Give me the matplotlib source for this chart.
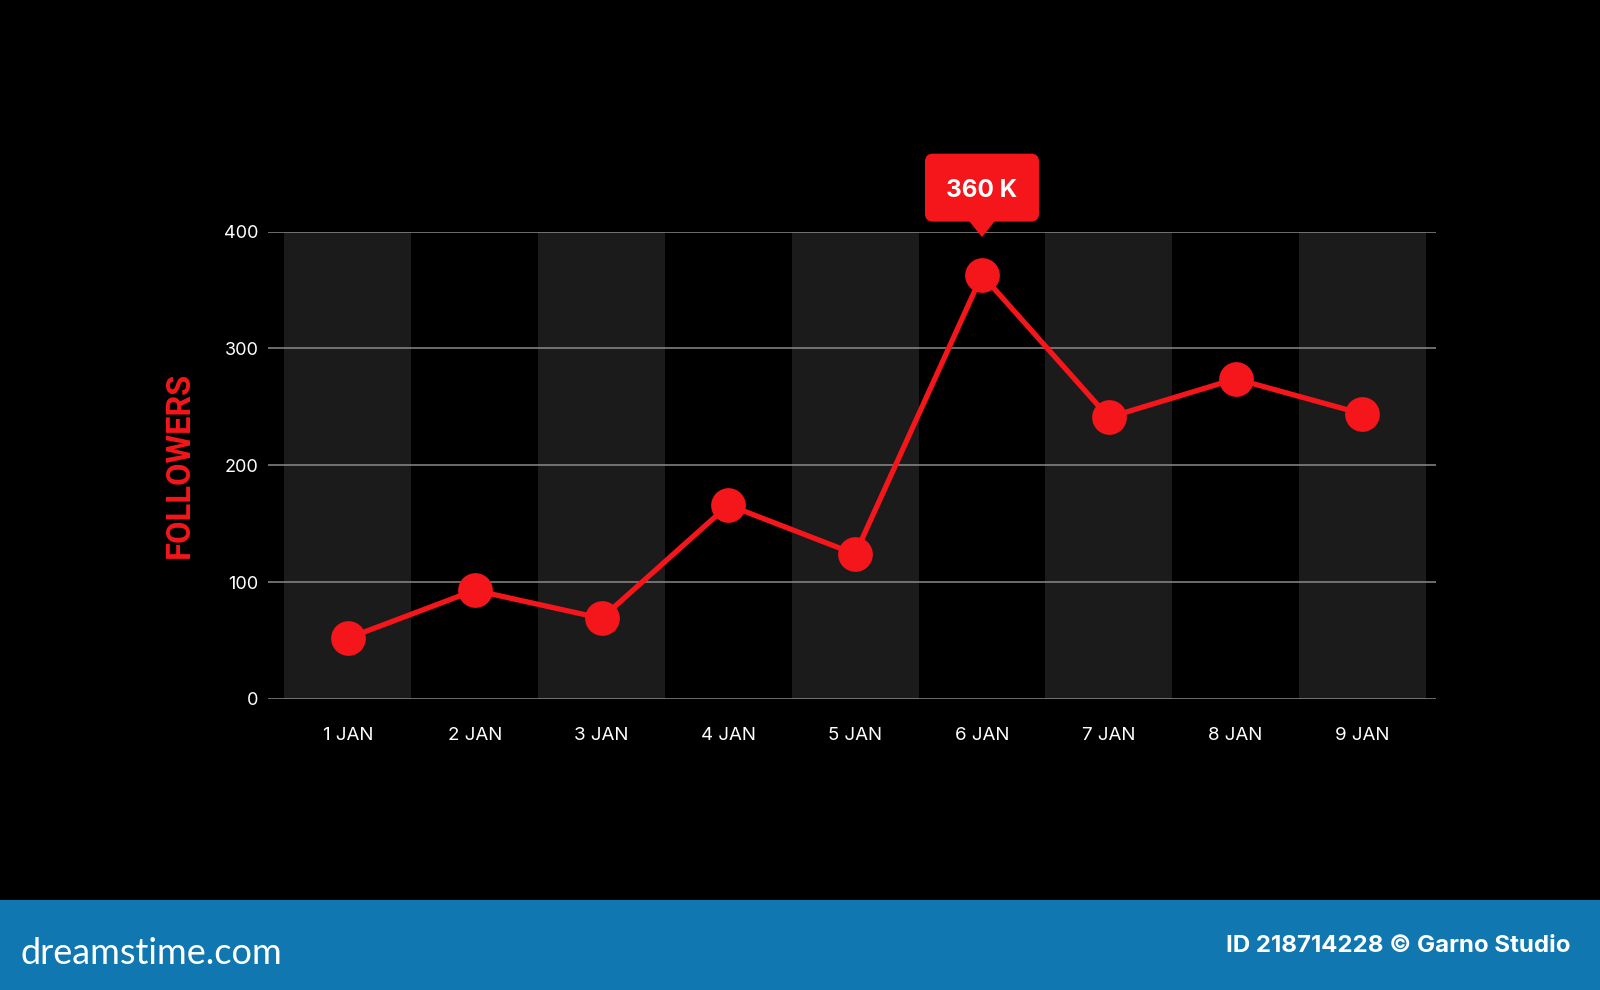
import matplotlib.pyplot as plt
from matplotlib.patches import FancyBboxPatch, Polygon, Rectangle
from matplotlib.transforms import ScaledTranslation

# data
days = ['1 JAN', '2 JAN', '3 JAN', '4 JAN', '5 JAN', '6 JAN', '7 JAN', '8 JAN', '9 JAN']
followers = [52, 93, 69, 166, 124, 363, 241, 274, 244]
yticks = [0, 100, 200, 300, 400]
peak_label = '360 K'

RED = '#f5161b'
fig = plt.figure(figsize=(16, 9.9), dpi=100, facecolor='black')
ax = fig.add_axes([0.1675, 0.294, 0.73, 0.472])
ax.set_facecolor('black')

x = list(range(len(days)))

# alternating background columns
ax.bar(x[::2], [yticks[-1]] * len(x[::2]), width=1.0, color='#1b1b1b', zorder=0)

for y in yticks:
    ax.axhline(y, color='#8a8a8a', lw=1.1, zorder=1)

ax.plot(x, followers, color=RED, lw=3.8, marker='o', ms=25,
        mfc=RED, mec='none', zorder=3, clip_on=False)

ax.set_xlim(-0.63, 8.58)
ax.set_ylim(0, 400)
ax.set_xticks(x, days)
ax.set_yticks(yticks)
for s in ax.spines.values():
    s.set_visible(False)
ax.tick_params(length=0, colors='white')
ax.tick_params(axis='x', pad=20, labelsize=13.5)
ax.tick_params(axis='y', pad=7, labelsize=13)
for lab in ax.get_xticklabels() + ax.get_yticklabels():
    lab.set_family('Inter')

ax.set_ylabel('FOLLOWERS', color=RED, fontsize=23.5, fontweight='bold',
              family='Roboto', labelpad=20)

# tooltip above the peak, built in inches relative to the peak column at the top line
peak = followers.index(max(followers))
tr = fig.dpi_scale_trans + ScaledTranslation(peak, yticks[-1], ax.transData)
box = FancyBboxPatch((-0.57 + 0.08, 0.10 + 0.08), 1.14 - 0.16, 0.68 - 0.16,
                     boxstyle='round,pad=0.08', fc=RED, ec='none',
                     transform=tr, clip_on=False, zorder=5)
fig.add_artist(box)
tip = Polygon([(-0.14, 0.12), (0.14, 0.12), (0.0, -0.055)], closed=True,
              fc=RED, ec='none', transform=tr, clip_on=False, zorder=5)
fig.add_artist(tip)
fig.text(0, 0.41, peak_label, transform=tr, color='white', fontsize=17.5,
         fontweight='bold', family='Inter', ha='center', va='center', zorder=6)

# footer band
fig.add_artist(Rectangle((0, 0), 1, 90 / 990, transform=fig.transFigure,
                         fc='#1177b0', ec='none'))
fig.text(20 / 1600, 37 / 990, 'dreamstime.com', color='white', fontsize=26,
         family='Lato', ha='left', va='center')
fig.text(1570 / 1600, 44 / 990, 'ID 218714228 © Garno Studio', color='white',
         fontsize=17.3, fontweight='bold', family='Inter', ha='right', va='center')

fig.savefig('out.png', dpi=100, facecolor='black')
